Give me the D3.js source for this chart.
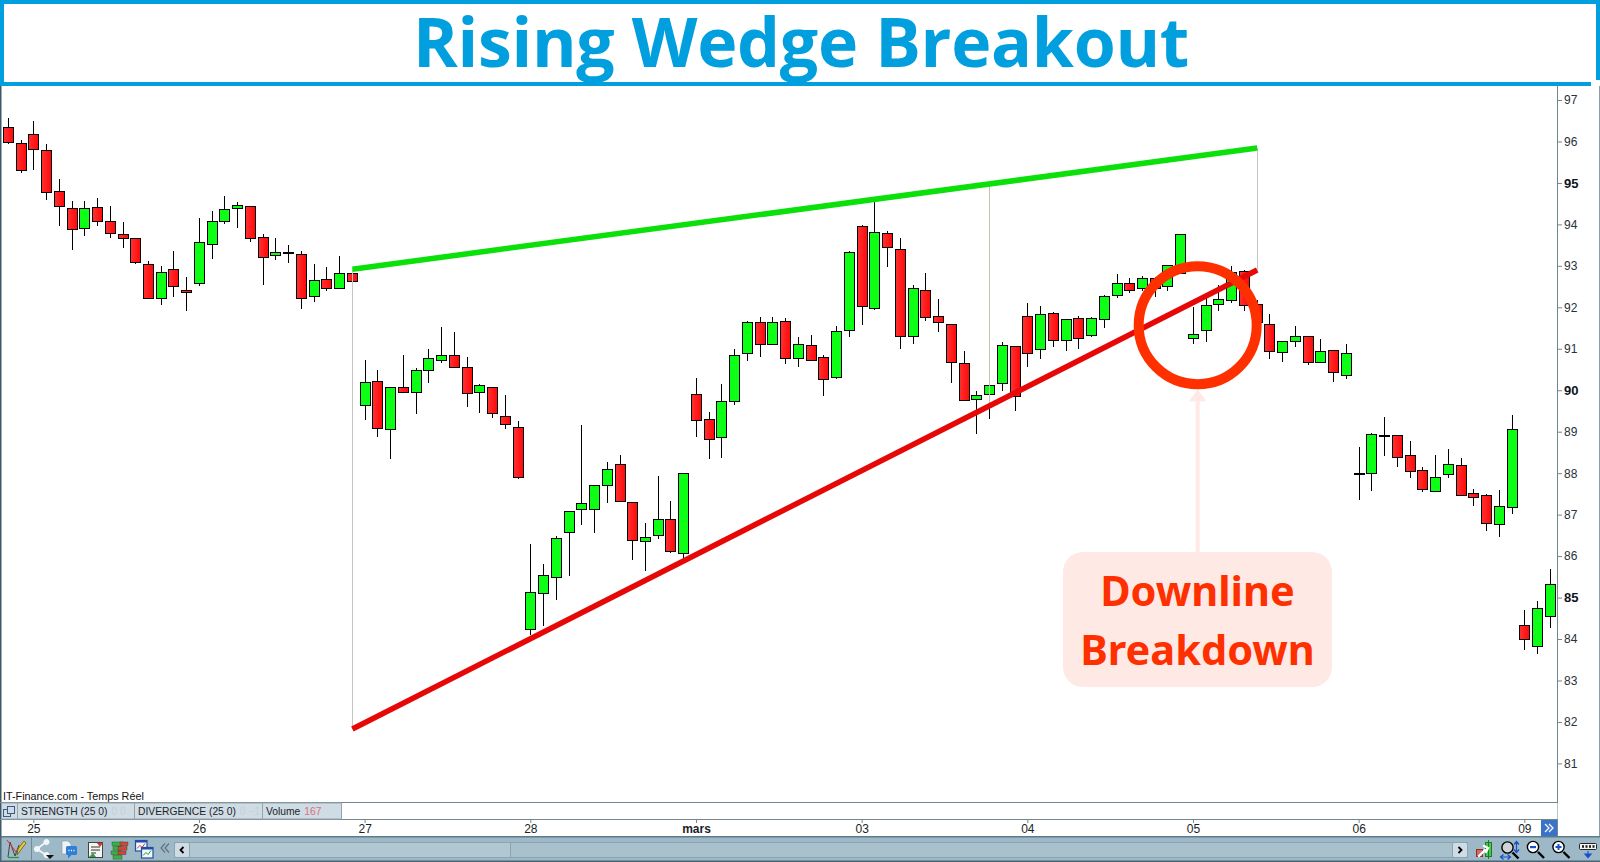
<!DOCTYPE html>
<html>
<head>
<meta charset="utf-8">
<title>Rising Wedge Breakout</title>
<script src="https://cdn.jsdelivr.net/npm/d3@7/dist/d3.min.js"></script>
<style>
  html, body { margin: 0; padding: 0; background: #fff; overflow: hidden; }
  svg { display: block; }
  text { font-family: "Liberation Sans", Arial, sans-serif; }
</style>
</head>
<body>
<svg id="chart" width="1600" height="862"></svg>
<script>
// Session candles, oldest first
const opens = [
  96.34,95.96,96.17,95.79,94.80,94.39,93.91,94.41,94.07,93.76,
  93.66,93.04,92.22,92.92,92.41,92.58,93.52,94.07,94.39,94.44,
  93.69,93.25,93.33,93.28,92.27,92.68,92.46,92.82,89.64,90.21,
  89.06,90.07,89.95,90.48,90.72,90.84,90.55,89.95,90.07,89.37,
  89.10,84.23,85.10,85.49,86.57,87.13,87.13,87.71,88.21,87.30,
  86.36,86.50,86.89,86.07,89.90,89.30,88.86,89.73,90.89,91.64,
  91.11,91.66,90.77,91.08,90.79,90.31,91.45,93.95,91.98,93.79,
  93.40,91.30,92.41,91.78,91.59,90.65,89.78,89.90,90.17,91.06,
  91.78,90.99,91.86,91.20,91.73,91.32,91.71,92.29,92.58,92.46,
  92.70,92.51,92.82,91.25,91.45,92.07,92.17,92.87,92.07,91.59,
  90.91,91.18,91.30,90.67,90.96,90.36,87.99,88.00,88.91,88.91,
  88.43,88.07,87.56,87.97,88.19,87.51,87.47,86.77,87.18,84.33,
  83.82,84.55
];
const closes = [
  95.98,95.30,95.81,94.77,94.44,93.88,94.39,94.07,93.78,93.66,
  93.09,92.22,92.84,92.51,92.36,93.57,94.07,94.36,94.46,93.66,
  93.21,93.33,93.30,92.22,92.65,92.46,92.82,92.63,90.19,89.08,
  90.07,89.95,90.48,90.77,90.84,90.55,89.92,90.12,89.44,89.18,
  87.90,85.13,85.54,86.43,87.08,87.27,87.71,88.09,87.32,86.38,
  86.45,86.89,86.11,88.00,89.27,88.82,89.73,90.84,91.64,91.11,
  91.64,90.77,91.11,90.72,90.26,91.42,93.33,92.02,93.81,93.45,
  91.30,92.46,91.76,91.64,90.67,89.76,89.88,90.12,91.08,89.85,
  90.89,91.83,91.20,91.71,91.25,91.73,92.27,92.58,92.41,92.70,
  92.46,93.01,93.76,91.35,92.05,92.19,92.84,92.05,91.64,90.94,
  91.18,91.30,90.67,90.94,90.43,90.89,87.98,88.94,88.89,88.38,
  88.04,87.61,87.90,88.21,87.47,87.42,86.79,87.20,89.06,83.99,
  84.74,85.32
];
const highs = [
  96.57,96.03,96.49,95.94,95.10,94.56,94.56,94.63,94.44,94.05,
  93.66,93.11,92.99,93.37,92.73,94.15,94.32,94.68,94.53,94.44,
  93.76,93.66,93.50,93.35,93.04,92.97,93.23,92.87,90.72,90.48,
  90.07,90.84,90.53,90.99,91.52,91.40,90.79,90.14,90.07,89.88,
  89.27,86.28,85.82,86.48,87.08,89.15,87.71,88.28,88.43,87.30,
  86.81,87.92,87.32,88.00,90.29,89.47,90.14,90.99,91.66,91.76,
  91.76,91.74,91.28,91.33,90.84,91.54,93.35,93.98,94.55,93.83,
  93.66,92.53,92.82,92.19,91.59,90.94,89.97,90.31,91.16,91.06,
  92.10,92.02,91.88,91.71,91.78,91.76,92.29,92.80,92.70,92.75,
  92.72,93.01,93.76,92.00,92.34,92.55,92.99,92.89,92.17,91.83,
  91.18,91.54,91.30,91.23,90.96,91.11,88.62,88.96,89.35,88.91,
  88.77,88.14,88.43,88.58,88.36,87.63,87.49,87.59,89.40,84.69,
  84.91,85.68
];
const lows = [
  95.94,95.25,95.30,94.60,93.97,93.39,93.73,93.95,93.68,93.42,
  93.05,92.22,92.06,92.26,91.90,92.52,93.17,94.02,93.92,93.58,
  92.55,93.13,93.08,91.97,92.14,92.40,92.46,92.58,89.29,88.88,
  88.33,89.95,89.43,90.18,90.66,90.55,89.60,89.46,89.34,89.07,
  87.87,84.10,84.32,84.95,85.53,86.76,86.56,87.29,87.32,85.91,
  85.65,86.42,86.08,85.92,88.88,88.35,88.37,89.65,90.71,90.81,
  91.08,90.64,90.55,90.72,89.85,90.28,91.29,91.58,91.94,92.98,
  91.00,91.12,91.68,91.41,90.18,89.73,88.95,89.31,89.99,89.51,
  90.57,90.76,91.05,90.95,91.00,91.29,91.49,92.23,92.35,92.39,
  92.26,92.40,92.80,91.12,91.17,91.92,92.11,91.92,91.64,90.76,
  90.69,91.05,90.60,90.67,90.21,90.26,87.36,87.58,88.42,88.16,
  87.89,87.54,87.54,87.89,87.47,87.20,86.61,86.47,87.02,83.73,
  83.65,84.27
];

// Axis labels
const priceTicks = [81,82,83,84,85,86,87,88,89,90,91,92,93,94,95,96,97];
const dateTickIndex = [2,15,28,41,54,67,80,93,106,119];
const dateTickLabels = ["25","26","27","28","mars","03","04","05","06","09"];

// Wedge boundaries: candle index and price at both ends
const wedgeIndex = [27, 98];
const wedgeUpper = [92.92, 95.84];
const wedgeLower = [81.83, 92.90];
const wedgeGuides = [27, 77, 98];

// Breakdown marker position on the chart
const breakdownIndex = 93.33;
const breakdownPrice = 91.57;

const titleText = "Rising Wedge Breakout";
const calloutLines = ["Downline", "Breakdown"];
const indicatorLabels = ["STRENGTH (25 0)", "DIVERGENCE (25 0)", "Volume"];
const indicatorGhosts = ["0  0", "0  \u22121", "167"];

const svg = d3.select("#chart");
const x = d3.scaleLinear().domain([0, opens.length - 1]).range([8.33, 1550.3]);
const y = d3.scaleLinear().domain([81, 97]).range([763.4, 100]);
const snap = v => Math.floor(v) + 0.5;

const defs = svg.append("defs");
const redGrad = defs.append("linearGradient").attr("id", "redBody");
redGrad.append("stop").attr("offset", 0).attr("stop-color", "#ff3232");
redGrad.append("stop").attr("offset", 1).attr("stop-color", "#ff0808");

// Candles
const candles = svg.append("g").attr("class", "candles")
  .selectAll("g").data(d3.range(opens.length)).join("g");
candles.append("line")
  .attr("x1", i => snap(x(i))).attr("x2", i => snap(x(i)))
  .attr("y1", i => Math.round(y(highs[i]))).attr("y2", i => Math.round(y(lows[i])))
  .attr("stroke", "#000").attr("stroke-width", 1);
candles.append("rect")
  .attr("x", i => snap(x(i)) - 5).attr("width", 10)
  .attr("y", i => snap(y(Math.max(opens[i], closes[i]))))
  .attr("height", i => Math.max(1, Math.round(Math.abs(y(opens[i]) - y(closes[i])))))
  .attr("fill", i => closes[i] >= opens[i] ? "#0cff14" : "url(#redBody)")
  .attr("stroke", "#000").attr("stroke-width", 1);

// Wedge guides and boundaries
const upperAt = d3.scaleLinear().domain(wedgeIndex).range(wedgeUpper);
const lowerAt = d3.scaleLinear().domain(wedgeIndex).range(wedgeLower);
svg.append("g").selectAll("line").data(wedgeGuides).join("line")
  .attr("x1", i => snap(x(i))).attr("x2", i => snap(x(i)))
  .attr("y1", i => y(upperAt(i))).attr("y2", i => y(lowerAt(i)))
  .attr("stroke", i => i === 77 ? "#c3c3a6" : "#c6c6c6").attr("stroke-width", 1);
const edge = d3.line().x(d => x(d[0])).y(d => y(d[1]));
svg.append("path").attr("d", edge(d3.zip(wedgeIndex, wedgeUpper)))
  .attr("fill", "none").attr("stroke", "#0be00b").attr("stroke-width", 5.5);
svg.append("path").attr("d", edge(d3.zip(wedgeIndex, wedgeLower)))
  .attr("fill", "none").attr("stroke", "#e60707").attr("stroke-width", 5.5);

// Breakdown ring, arrow and callout
const ringX = x(breakdownIndex), ringY = y(breakdownPrice);
svg.append("circle").attr("cx", ringX).attr("cy", ringY).attr("r", 59)
  .attr("fill", "none").attr("stroke", "#ff3000").attr("stroke-width", 10);
const pale = "#ffe9e5";
svg.append("rect").attr("x", ringX - 2).attr("y", 398).attr("width", 4).attr("height", 156).attr("fill", pale);
svg.append("path").attr("d", `M${ringX},391 L${ringX + 7},400.5 L${ringX - 7},400.5 Z`)
  .attr("fill", pale).attr("stroke", pale).attr("stroke-width", 2).attr("stroke-linejoin", "round");
svg.append("rect").attr("x", 1063).attr("y", 552).attr("width", 269).attr("height", 135).attr("rx", 20).attr("fill", pale);
svg.selectAll("text.callout").data(calloutLines).join("text")
  .attr("class", "callout").attr("x", 1197.5).attr("y", (d, i) => 606 + i * 59)
  .attr("text-anchor", "middle").attr("fill", "#ff3000")
  .style("font-family", "'Noto Sans', sans-serif").style("font-weight", 700).style("font-size", "41.5px")
  .text(d => d);

// Frame of the price panel
const frame = "#74878f";
svg.append("rect").attr("x", 0).attr("y", 86).attr("width", 1.5).attr("height", 750).attr("fill", "#3f5968");
svg.append("line").attr("x1", 1557.5).attr("x2", 1557.5).attr("y1", 86).attr("y2", 836).attr("stroke", frame);
svg.append("line").attr("x1", 1599.5).attr("x2", 1599.5).attr("y1", 86).attr("y2", 836).attr("stroke", "#8f9ea6");

// Price axis
const priceAxis = d3.axisRight(y).tickValues(priceTicks).tickSize(4).tickPadding(2).tickFormat(d3.format("d"));
const pa = svg.append("g").attr("transform", "translate(1558,0)").call(priceAxis);
pa.select(".domain").remove();
pa.selectAll(".tick line").attr("stroke", frame);
pa.selectAll(".tick text")
  .style("font-family", "'Liberation Sans', Arial, sans-serif")
  .style("font-size", d => d % 5 === 0 ? "13px" : "12px")
  .style("font-weight", d => d % 5 === 0 ? 700 : 400)
  .attr("fill", d => d % 5 === 0 ? "#10131c" : "#2a2f3a");

// Banner
const blue = "#029fdf";
svg.append("rect").attr("x", 0).attr("y", 0).attr("width", 1600).attr("height", 82).attr("fill", "#fff");
svg.append("rect").attr("x", 0).attr("y", 0).attr("width", 1600).attr("height", 4).attr("fill", blue);
svg.append("rect").attr("x", 0).attr("y", 0).attr("width", 4).attr("height", 86).attr("fill", blue);
svg.append("rect").attr("x", 0).attr("y", 82).attr("width", 1591).attr("height", 4).attr("fill", blue);
svg.append("rect").attr("x", 1596).attr("y", 0).attr("width", 4).attr("height", 80).attr("fill", blue);
svg.append("text").attr("x", 801).attr("y", 66.5).attr("text-anchor", "middle")
  .attr("fill", blue)
  .style("font-family", "'Open Sans', sans-serif").style("font-weight", 700).style("font-size", "68px")
  .style("letter-spacing", "-0.3px")
  .text(titleText);

// Feed name
svg.append("text").attr("x", 3).attr("y", 800).attr("fill", "#111").style("font-size", "10.8px")
  .text("IT-Finance.com - Temps R\u00e9el");

// Indicator strip
const strip = svg.append("g");
strip.append("rect").attr("x", 1).attr("y", 802).attr("width", 1556.5).attr("height", 18).attr("fill", "#fff");
strip.append("line").attr("x1", 0).attr("x2", 1558).attr("y1", 802.5).attr("y2", 802.5).attr("stroke", frame);
strip.append("line").attr("x1", 0).attr("x2", 1558).attr("y1", 819.5).attr("y2", 819.5).attr("stroke", frame);
const cellEdges = [1, 17, 134, 262, 341];
d3.pairs(cellEdges).forEach(([a, b]) => {
  strip.append("rect").attr("x", a + 0.5).attr("y", 803).attr("width", b - a).attr("height", 16)
    .attr("fill", "#cfdce4").attr("stroke", "#93a5b0").attr("stroke-width", 1);
});
indicatorLabels.forEach((t, i) => {
  const tx = cellEdges[i + 1] + 4;
  const label = strip.append("text").attr("x", tx).attr("y", 814.7).attr("fill", "#1c2329").style("font-size", "10.3px").text(t);
  const w = label.node().getComputedTextLength();
  strip.append("text").attr("x", tx + w + 4).attr("y", 814.7)
    .attr("fill", i === 2 ? "#de6f80" : "#c3d0d8").style("font-size", "10.3px")
    .text(indicatorGhosts[i]);
});
strip.append("rect").attr("x", 3.5).attr("y", 809.5).attr("width", 7).attr("height", 7).attr("fill", "#cfdce4").attr("stroke", "#3a5a88");
strip.append("rect").attr("x", 7.5).attr("y", 806.5).attr("width", 7).attr("height", 7).attr("fill", "#cfdce4").attr("stroke", "#3a5a88");

// Date axis
const dateAxis = d3.axisBottom(x).tickValues(dateTickIndex).tickSize(3).tickPadding(1)
  .tickFormat(i => dateTickLabels[dateTickIndex.indexOf(i)]);
const da = svg.append("g").attr("transform", "translate(-0.5,820)").call(dateAxis);
da.select(".domain").remove();
da.selectAll(".tick line").attr("stroke", frame);
da.selectAll(".tick text")
  .style("font-family", "'Liberation Sans', Arial, sans-serif")
  .style("font-size", "12px")
  .style("font-weight", (d, i) => dateTickLabels[i] === "mars" ? 700 : 400)
  .attr("fill", "#1a1f28");

// Jump-to-latest button
svg.append("rect").attr("x", 1541).attr("y", 820).attr("width", 16).attr("height", 16).attr("fill", "#3a72c8");
svg.append("path").attr("d", "M1545,824 l4,4 l-4,4 M1549,824 l4,4 l-4,4").attr("fill", "none").attr("stroke", "#fff").attr("stroke-width", 1.2);

// Toolbar
const bar = svg.append("g");
bar.append("rect").attr("x", 0).attr("y", 836).attr("width", 1600).attr("height", 26).attr("fill", "#9db8c6");
bar.append("rect").attr("x", 0).attr("y", 836).attr("width", 1600).attr("height", 1.5).attr("fill", "#5f7a89");
bar.append("rect").attr("x", 0).attr("y", 860.5).attr("width", 1600).attr("height", 1.5).attr("fill", "#4a6574");
bar.append("rect").attr("x", 0).attr("y", 836).attr("width", 1.5).attr("height", 26).attr("fill", "#4a6574");
bar.append("line").attr("x1", 31.5).attr("x2", 31.5).attr("y1", 837).attr("y2", 860).attr("stroke", "#6f8a99");

// Scrollbar
bar.append("rect").attr("x", 174.5).attr("y", 842.5).attr("width", 1293).attr("height", 15).attr("fill", "#a9c1cd").attr("stroke", "#8aa4b2");
bar.append("rect").attr("x", 174.5).attr("y", 842.5).attr("width", 336).attr("height", 15).attr("fill", "#b1c7d2").attr("stroke", "#8aa4b2");
bar.append("rect").attr("x", 174.5).attr("y", 842.5).attr("width", 15).attr("height", 15).attr("rx", 1.5).attr("fill", "#cfdce4").attr("stroke", "#8aa4b2");
bar.append("rect").attr("x", 1452.5).attr("y", 842.5).attr("width", 15).attr("height", 15).attr("rx", 1.5).attr("fill", "#cfdce4").attr("stroke", "#8aa4b2");
bar.append("path").attr("d", "M183.5,847 l-3,3 l3,3").attr("fill", "none").attr("stroke", "#000").attr("stroke-width", 1.8);
bar.append("path").attr("d", "M1458.5,847 l3,3 l-3,3").attr("fill", "none").attr("stroke", "#000").attr("stroke-width", 1.8);
bar.append("path").attr("d", "M165,843.5 l-4,4.5 l4,4.5 M169,843.5 l-4,4.5 l4,4.5").attr("fill", "none").attr("stroke", "#5f7280").attr("stroke-width", 1.2);

// Toolbar icons, left side
const drawingIcon = bar.append("g");
drawingIcon.append("path").attr("d", "M8,857 L10,842 L15,856 L19,845").attr("fill", "none").attr("stroke", "#444").attr("stroke-width", 1);
drawingIcon.append("path").attr("d", "M7,840 L16,852").attr("stroke", "#d8342c").attr("stroke-width", 1);
drawingIcon.append("path").attr("d", "M8,857.5 H19").attr("stroke", "#16a02a").attr("stroke-width", 1.2);
drawingIcon.append("path").attr("d", "M17,855 L18,849 L24,841 L26,843 L20,851 Z").attr("fill", "#f2c53d").attr("stroke", "#6b5410").attr("stroke-width", .8);

const shareIcon = bar.append("g").attr("fill", "#f2f6f8").attr("stroke", "#f2f6f8");
shareIcon.append("path").attr("d", "M37,849 L46,842 M37,849 L46,855").attr("fill", "none").attr("stroke-width", 1.6);
shareIcon.append("circle").attr("cx", 37).attr("cy", 849).attr("r", 2.6);
shareIcon.append("circle").attr("cx", 46.5).attr("cy", 842).attr("r", 2.6);
shareIcon.append("circle").attr("cx", 46.5).attr("cy", 855).attr("r", 2.6);
bar.append("path").attr("d", "M46,855 h8 l-4,4 Z").attr("fill", "#111");

bar.append("path").attr("d", "M62,841 h6 l3,3 v10 h-9 Z").attr("fill", "#eef2f5").attr("stroke", "#8a9aa4").attr("stroke-width", .6);
bar.append("rect").attr("x", 66).attr("y", 846).attr("width", 11).attr("height", 9).attr("rx", 1.5).attr("fill", "#2f7fd6");
bar.append("path").attr("d", "M68,855 v3.5 l3.5,-3.5 Z").attr("fill", "#2f7fd6");
bar.append("path").attr("d", "M68.5,850.5 h1 m1.5,0 h1 m1.5,0 h1").attr("stroke", "#fff").attr("stroke-width", 1.4);

bar.append("rect").attr("x", 88.5).attr("y", 842.5).attr("width", 14).attr("height", 15).attr("fill", "#f5f6f2").attr("stroke", "#444");
bar.append("path").attr("d", "M91,847 H100 M91,850 H100 M91,853 H96").attr("stroke", "#333").attr("stroke-width", 1);
bar.append("path").attr("d", "M97,843 h6 l-3,4 Z").attr("fill", "#d6342c");
bar.append("path").attr("d", "M89,857 l4,-4 l3,4 Z").attr("fill", "#2f9f3b");

[["#3cb043", 112, 842, 11], ["#d9423a", 120, 842, 8], ["#3cb043", 113, 846.5, 8], ["#d9423a", 118, 846.5, 9],
 ["#3cb043", 111, 851, 10], ["#d9423a", 118, 851, 8], ["#3cb043", 113, 855.5, 9]].forEach(([c, bx, by, w]) => {
  bar.append("rect").attr("x", bx).attr("y", by).attr("width", w).attr("height", 3.6).attr("fill", c).attr("stroke", "#1d4a20").attr("stroke-width", .4);
});

[[135.5, 840.5, "#d6342c"], [141.5, 847.5, "#16a02a"]].forEach(([wx, wy, c]) => {
  bar.append("rect").attr("x", wx).attr("y", wy).attr("width", 11.5).attr("height", 10.5).attr("fill", "#f3f7fa").attr("stroke", "#1f4fa8").attr("stroke-width", 1.2);
  bar.append("rect").attr("x", wx).attr("y", wy).attr("width", 11.5).attr("height", 2).attr("fill", "#1f4fa8");
  bar.append("path").attr("d", `M${wx + 1.5},${wy + 8} l3,-3 l2,2 l3,-4`).attr("fill", "none").attr("stroke", c).attr("stroke-width", 1);
});

// Toolbar icons, right side
bar.append("rect").attr("x", 1476.5).attr("y", 849.5).attr("width", 6).attr("height", 7).attr("fill", "#e0625c").attr("stroke", "#8c2f2a");
bar.append("rect").attr("x", 1485.5).attr("y", 842.5).attr("width", 6).attr("height", 14).attr("fill", "#44cc48").attr("stroke", "#1d7a22");
bar.append("line").attr("x1", 1488.5).attr("x2", 1488.5).attr("y1", 840).attr("y2", 859).attr("stroke", "#1d7a22");
bar.append("path").attr("d", "M1479,856 L1485,850 M1484,846 l4,2 l-2,4").attr("fill", "none").attr("stroke", "#fff").attr("stroke-width", 2.4).attr("stroke-linecap", "round");

function magnifier(cx, cy, fill) {
  bar.append("line").attr("x1", cx + 5).attr("y1", cy + 5).attr("x2", cx + 11).attr("y2", cy + 11).attr("stroke", "#000").attr("stroke-width", 2.4);
  bar.append("circle").attr("cx", cx).attr("cy", cy).attr("r", 5.6).attr("fill", fill).attr("stroke", "#000").attr("stroke-width", 1.4);
}
magnifier(1507.5, 847.5, "#cfd3d6");
bar.append("path").attr("d", "M1516.5,842 v10 M1514,844.5 l2.5,-3 l2.5,3 M1514,849.5 l2.5,3 l2.5,-3 M1501,857 h9 M1503.5,854.5 l-3,2.5 l3,2.5 M1507.5,854.5 l3,2.5 l-3,2.5")
  .attr("fill", "none").attr("stroke", "#1550c8").attr("stroke-width", 1.2);
magnifier(1533, 847, "#fff");
bar.append("rect").attr("x", 1530).attr("y", 846).attr("width", 6).attr("height", 2.2).attr("fill", "#1550c8");
magnifier(1558.5, 847, "#fff");
bar.append("path").attr("d", "M1555.5,847 h6 M1558.5,844 v6").attr("stroke", "#1550c8").attr("stroke-width", 2);

bar.append("rect").attr("x", 1579.5).attr("y", 843.5).attr("width", 17).attr("height", 6).attr("rx", 1).attr("fill", "#f3f5f6").attr("stroke", "#222");
bar.selectAll(".cellDot").data([1582, 1585.5, 1589, 1592.5]).join("rect").attr("class", "cellDot")
  .attr("x", d => d).attr("y", 845.2).attr("width", 2).attr("height", 2.6).attr("fill", "#222");
bar.append("path").attr("d", "M1588,851 v4 M1585,854 h6 l-3,3.6 Z").attr("fill", "#1550c8").attr("stroke", "#1550c8").attr("stroke-width", 1.2);
</script>
</body>
</html>
